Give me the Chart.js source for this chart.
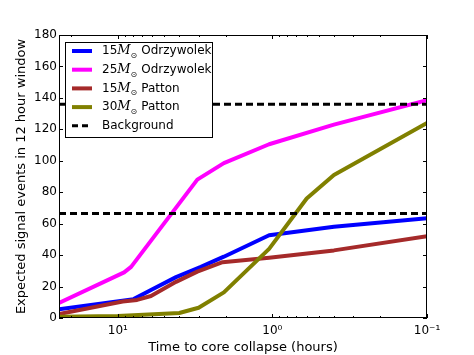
<!DOCTYPE html>
<html><head><meta charset="utf-8">
<script src="https://cdn.jsdelivr.net/npm/chart.js@4"></script>
<style>html,body{margin:0;padding:0;background:#fff}#wrap{width:474px;height:355px}</style>
</head><body><div id="wrap"><canvas id="c" width="474" height="355"></canvas></div>
<script>
// ---- data (hours before core collapse, expected signal events) ----
const odr15Hours = [24, 7.9, 6.1, 4.2, 2.9, 2.06, 1.05, 0.4, 0.1];
const odr15Vals  = [5.5, 12, 17.8, 26, 32.5, 39, 52.6, 58, 63.5];
const odr25Hours = [24, 9.1, 8.2, 3.06, 2.06, 1.05, 0.4, 0.1];
const odr25Vals  = [9.5, 29, 32.5, 88, 98.5, 110.5, 123, 138.5];
const pat15Hours = [24, 9.3, 7.5, 6.1, 4.2, 3.06, 2.1, 1.05, 0.4, 0.1];
const pat15Vals  = [2.5, 10.5, 11.5, 14, 23, 29.5, 35.5, 38.3, 43, 52];
const pat30Hours = [24, 10, 4, 3, 2.06, 1.05, 0.6, 0.4, 0.1];
const pat30Vals  = [0.8, 1.3, 3.2, 6.5, 16.3, 44, 76, 91, 124];
const bgHours = [24, 0.1];
const bgLevels = [66.5, 136];
const xMajorTicks = [0.1, 1, 10];
const xTickLabels = ['10\u207B\u00B9', '10\u2070', '10\u00B9'];
const seriesMass = ['15', '25', '15', '30'];
const seriesNames = ['Odrzywolek', 'Odrzywolek', 'Patton', 'Patton'];
const seriesColors = ['#0000ff', '#ff00ff', '#a52a2a', '#808000'];
const bgLabel = 'Background';

const pts = (h, v) => h.map((x, i) => ({x: x, y: v[i]}));
const FONT = "'DejaVu Sans', sans-serif";

const lineDs = (label, h, v, color, order) => ({
  label, data: pts(h, v), borderColor: color, backgroundColor: color,
  borderWidth: 4, pointRadius: 0, tension: 0, borderJoinStyle: 'round', order
});

const datasets = [
  lineDs(seriesMass[0] + 'M ' + seriesNames[0], odr15Hours, odr15Vals, seriesColors[0], 6),
  lineDs(seriesMass[1] + 'M ' + seriesNames[1], odr25Hours, odr25Vals, seriesColors[1], 5),
  lineDs(seriesMass[2] + 'M ' + seriesNames[2], pat15Hours, pat15Vals, seriesColors[2], 4),
  lineDs(seriesMass[3] + 'M ' + seriesNames[3], pat30Hours, pat30Vals, seriesColors[3], 3),
];
bgLevels.forEach((lv, k) => {
  datasets.push({
    label: bgLabel, data: pts(bgHours, bgHours.map(() => lv)),
    borderColor: '#000', borderWidth: 3, borderDash: [7, 4], pointRadius: 0,
    tension: 0, order: 2 - k * 0.5
  });
});

const framePlugin = {
  id: 'frameTicks',
  afterDatasetsDraw(chart) {
    const {ctx, chartArea: a, scales: {x, y}} = chart;
    ctx.save();
    ctx.strokeStyle = '#000';
    ctx.lineWidth = 1;
    ctx.strokeRect(a.left + 0.5, a.top + 0.5, a.right - a.left - 1, a.bottom - a.top - 1);
    ctx.beginPath();
    y.ticks.forEach(t => {
      const py = Math.round(y.getPixelForValue(t.value)) + 0.5;
      ctx.moveTo(a.left, py); ctx.lineTo(a.left + 4, py);
      ctx.moveTo(a.right, py); ctx.lineTo(a.right - 4, py);
    });
    for (let e = -1; e <= 1; e++) {
      for (let m = 1; m <= 9; m++) {
        const v = m * Math.pow(10, e);
        if (v < x.min - 1e-9 || v > x.max + 1e-9) continue;
        const px = Math.round(x.getPixelForValue(v)) + 0.5;
        const len = m === 1 ? 4 : 2;
        ctx.moveTo(px, a.bottom); ctx.lineTo(px, a.bottom - len);
        ctx.moveTo(px, a.top); ctx.lineTo(px, a.top + len);
      }
    }
    ctx.stroke();
    ctx.restore();
  },
  afterDraw(chart) {
    const ctx = chart.ctx;
    ctx.save();
    const bx = 65, by = 42, bw = 147, bh = 95;
    ctx.fillStyle = '#fff';
    ctx.fillRect(bx, by, bw, bh);
    ctx.strokeStyle = '#000';
    ctx.lineWidth = 1;
    ctx.strokeRect(bx + 0.5, by + 0.5, bw, bh);
    const rowY = k => 51 + k * 18.7;
    ctx.textBaseline = 'middle';
    for (let k = 0; k < 5; k++) {
      const yy = rowY(k);
      ctx.beginPath();
      if (k < 4) {
        ctx.strokeStyle = seriesColors[k]; ctx.lineWidth = 4; ctx.setLineDash([]);
      } else {
        ctx.strokeStyle = '#000'; ctx.lineWidth = 3; ctx.setLineDash([6, 4]);
      }
      ctx.moveTo(72, yy); ctx.lineTo(92, yy);
      ctx.stroke();
      ctx.setLineDash([]);
      ctx.fillStyle = '#000';
      let tx = 102;
      if (k < 4) {
        ctx.font = "12px " + FONT;
        ctx.fillText(seriesMass[k], tx, yy); tx += ctx.measureText(seriesMass[k]).width;
        ctx.font = "italic 13px 'DejaVu Serif', serif";
        ctx.fillText('M', tx, yy); tx += ctx.measureText('M').width;
        ctx.font = "8px " + FONT;
        ctx.fillText('\u2299', tx, yy + 5); tx += ctx.measureText('\u2299').width + 4;
        ctx.font = "12px " + FONT;
        ctx.fillText(seriesNames[k], tx, yy);
      } else {
        ctx.font = "12px " + FONT;
        ctx.fillText(bgLabel, tx, yy);
      }
    }
    ctx.restore();
  }
};

new Chart(document.getElementById('c'), {
  type: 'line',
  data: {datasets},
  options: {
    responsive: false, animation: false, devicePixelRatio: 1,
    layout: {padding: {top: 35, right: 47, left: 0, bottom: 0}},
    plugins: {legend: {display: false}, tooltip: {enabled: false}},
    scales: {
      x: {
        type: 'logarithmic', reverse: true, min: 0.1, max: 24, bounds: 'data',
        grid: {display: false, drawTicks: false}, border: {display: false},
        afterBuildTicks: s => { s.ticks = xMajorTicks.map(v => ({value: v, major: true})); },
        afterFit: s => { s.height = 37; },
        ticks: {
          autoSkip: false, maxRotation: 0, padding: 6, color: '#000',
          font: {family: FONT, size: 12},
          callback: v => xTickLabels[xMajorTicks.indexOf(v)]
        },
        title: {display: true, text: 'Time to core collapse (hours)', color: '#000',
          font: {family: FONT, size: 13}, padding: {top: 0, bottom: 0}}
      },
      y: {
        min: 0, max: 180,
        grid: {display: false, drawTicks: false}, border: {display: false},
        afterFit: s => { s.width = 59; },
        ticks: {stepSize: 20, padding: 2, color: '#000', font: {family: FONT, size: 12}},
        title: {display: true, text: 'Expected signal events in 12 hour window', color: '#000',
          font: {family: FONT, size: 13}, padding: {top: 14, bottom: 0}}
      }
    }
  },
  plugins: [framePlugin]
});
</script></body></html>
